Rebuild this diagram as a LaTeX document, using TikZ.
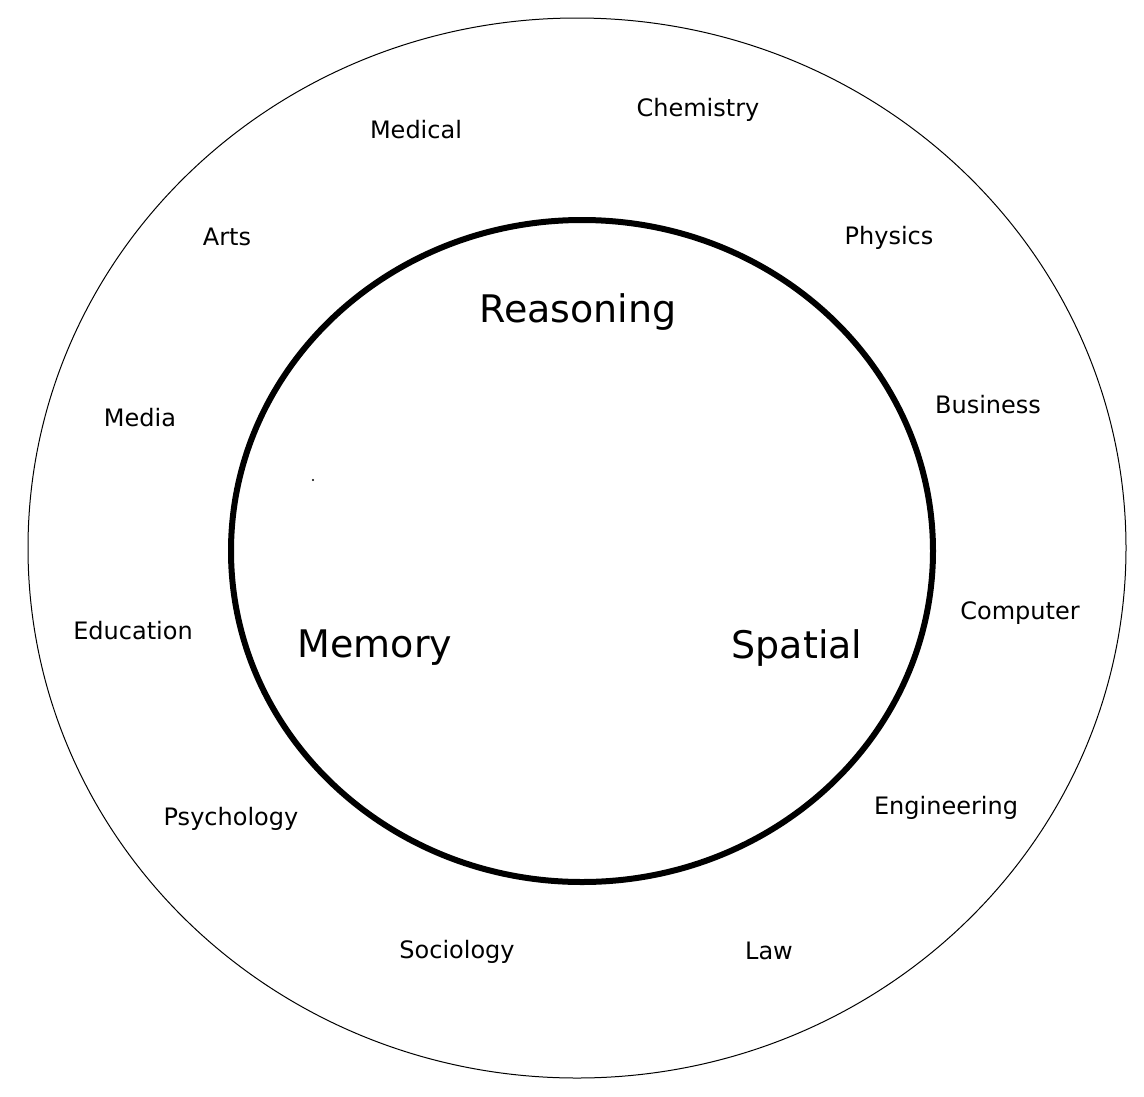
\documentclass[tikz,border=0pt]{standalone}
\usepackage{fontspec}
\setmainfont{DejaVu Sans}
\begin{document}
\begin{tikzpicture}[x=1pt,y=-1pt,
  small/.style={font=\fontsize{24}{28}\selectfont,inner sep=0pt},
  big/.style={font=\fontsize{38}{44}\selectfont,inner sep=0pt}]
\useasboundingbox (0,0) rectangle (1144,1096);
\fill[white] (0,0) rectangle (1144,1096);
\draw[line width=1pt] (577,548) ellipse [x radius=549, y radius=530];
\draw[line width=6pt] (582,551) ellipse [x radius=351, y radius=331];
\fill (313,480) circle (1.2pt);
\node[small] (med) at (416,130) {Medical};
\node[small] (che) at (698,110) {Chemistry};
\node[small] (art) at (227,237) {Arts};
\node[small] (phy) at (889,238) {Physics};
\node[small] (bus) at (988,405) {Business};
\node[small] (mda) at (140,418) {Media};
\node[small] (com) at (1020,613) {Computer};
\node[small] (edu) at (133,631) {Education};
\node[small] (psy) at (231,819) {Psychology};
\node[small] (eng) at (946,808) {Engineering};
\node[small] (soc) at (457,952) {Sociology};
\node[small] (law) at (769,951) {Law};
\node[big] (rea) at (578,312) {Reasoning};
\node[big] (mem) at (375,648) {Memory};
\node[big] (spa) at (797,648) {Spatial};
\end{tikzpicture}
\end{document}
